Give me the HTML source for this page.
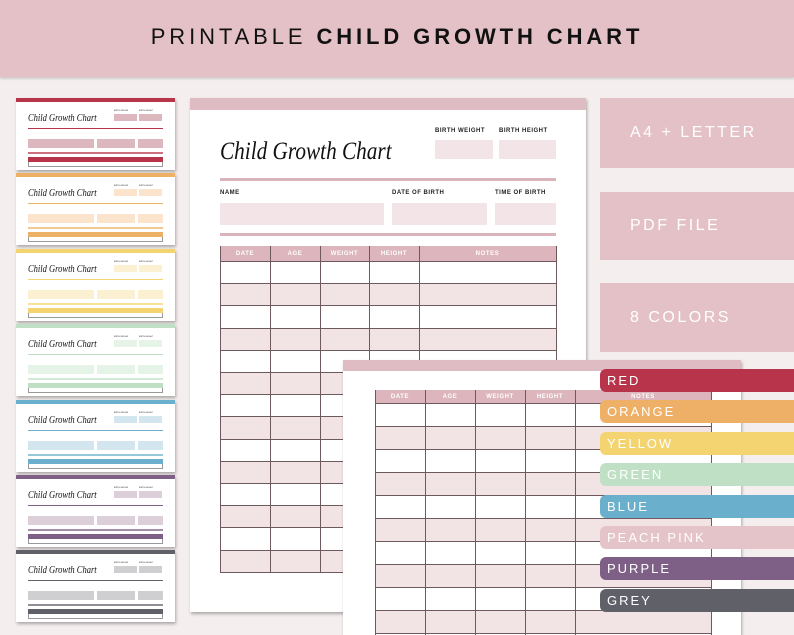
<!DOCTYPE html>
<html><head><meta charset="utf-8">
<style>
*{margin:0;padding:0;box-sizing:border-box}
html{width:794px;height:635px;overflow:hidden}
body{width:794px;height:635px;overflow:hidden;background:#f5eeee;position:relative;font-family:"Liberation Sans",sans-serif}
.abs{position:absolute}
.hdr{left:0;top:0;width:794px;height:77px;background:#e3c1c7;box-shadow:0 2px 2px rgba(0,0,0,.15)}
.hdr h1{position:absolute;left:0;width:794px;top:24px;text-align:center;font-size:22px;font-weight:normal;letter-spacing:3.9px;color:#111}
.hdr b{font-weight:bold}
.sheet{background:#fff;box-shadow:1px 2px 3px rgba(0,0,0,.3)}
.script{font-family:"Liberation Serif",serif;font-style:italic;color:#111;white-space:nowrap}
.lbl{font-size:6px;font-weight:bold;letter-spacing:.5px;color:#222}
.box{background:#f3e5e7}
.side{background:#e3c1c7;color:#fff;font-size:16px;letter-spacing:2.5px;padding-left:30px;display:flex;align-items:center}
.tab{left:600px;width:194px;height:23px;border-radius:6px 0 0 6px;color:#fff;font-size:13px;letter-spacing:2px;padding-left:7px;line-height:23px}
</style></head><body>
<div class="abs hdr"><h1>PRINTABLE <b>CHILD GROWTH CHART</b></h1></div>

<div id="thumbs"></div>

<div class="abs sheet" style="left:190px;top:98px;width:396px;height:514px">
  <div class="abs" style="left:0;top:0;width:396px;height:12px;background:#dfbcc4"></div>
  <div class="abs script" style="left:30px;top:40px;font-size:25px;transform:scaleX(.85);transform-origin:left">Child Growth Chart</div>
  <div class="abs lbl" style="left:245px;top:30px">BIRTH WEIGHT</div>
  <div class="abs lbl" style="left:309px;top:30px">BIRTH HEIGHT</div>
  <div class="abs box" style="left:245px;top:42px;width:58px;height:19px"></div>
  <div class="abs box" style="left:309px;top:42px;width:57px;height:19px"></div>
  <div class="abs" style="left:30px;top:80px;width:336px;height:3px;background:#dab3bb"></div>
  <div class="abs lbl" style="left:30px;top:92px">NAME</div>
  <div class="abs lbl" style="left:202px;top:92px">DATE OF BIRTH</div>
  <div class="abs lbl" style="left:305px;top:92px">TIME OF BIRTH</div>
  <div class="abs box" style="left:30px;top:105px;width:164px;height:22px"></div>
  <div class="abs box" style="left:202px;top:105px;width:95px;height:22px"></div>
  <div class="abs box" style="left:305px;top:105px;width:61px;height:22px"></div>
  <div class="abs" style="left:30px;top:135px;width:336px;height:3px;background:#dab3bb"></div>
  <div id="t1"></div>
</div>

<div class="abs sheet" style="left:343px;top:360px;width:398px;height:275px;overflow:hidden">
  <div class="abs" style="left:0;top:0;width:398px;height:11px;background:#dfbcc4"></div>
  <div id="t2"></div>
</div>

<div class="abs side" style="left:600px;top:98px;width:194px;height:70px">A4 + LETTER</div>
<div class="abs side" style="left:600px;top:192px;width:194px;height:68px">PDF FILE</div>
<div class="abs side" style="left:600px;top:283px;width:194px;height:69px">8 COLORS</div>
<div id="tabs"></div>

<script>
const cols=['DATE','AGE','WEIGHT','HEIGHT','NOTES'];
function table(host,x,y,widths,hh,rh,n,fs){
  const c=document.getElementById(host);
  let h='';let cx=x;const W=widths.reduce((a,b)=>a+b,0);
  h+=`<div class="abs" style="left:${x}px;top:${y}px;width:${W}px;height:${hh}px;background:#dcb5bd"></div>`;
  widths.forEach((w,i)=>{h+=`<div class="abs" style="left:${cx}px;top:${y}px;width:${w}px;height:${hh}px;line-height:${hh}px;text-align:center;color:#fff;font-size:${fs}px;font-weight:bold;letter-spacing:.6px">${cols[i]}</div>`;cx+=w;});
  for(let r=0;r<n;r++){const ty=y+hh+r*rh;h+=`<div class="abs" style="left:${x}px;top:${ty}px;width:${W}px;height:${rh}px;background:${r%2?'#f2e3e5':'#fff'};border-bottom:1px solid #6e5a5e"></div>`;}
  cx=x;for(let i=0;i<=widths.length;i++){h+=`<div class="abs" style="left:${cx}px;top:${y}px;width:1px;height:${hh+n*rh}px;background:#6e5a5e"></div>`;cx+=widths[i]||0;}
  h+=`<div class="abs" style="left:${x}px;top:${y+hh-1}px;width:${W}px;height:1px;background:#6e5a5e"></div>`;
  c.innerHTML=h;
}
table('t1',30,148,[50,50,49,50,137],16,22.2,14,6);
table('t2',32,30,[50,50,50,50,136],14,23,11,6);

const tc=[['#b8344a','#dcb8be'],['#eeb066','#fbe3cc'],['#f4d470','#fbf0d2'],['#bfe0c4','#e6f3e7'],['#6aafcb','#d3e6ef'],['#7e5f86','#dccfd9'],['#5f6068','#cfcfd2']];
let th='';
tc.forEach((c,i)=>{const y=98+i*75.4;
th+=`<div class="abs sheet" style="left:16px;top:${y}px;width:159px;height:72px;overflow:hidden">
<div class="abs" style="left:0;top:0;width:159px;height:4px;background:${c[0]}"></div>
<div class="abs script" style="left:12px;top:15px;font-size:10px;transform:scaleX(.85);transform-origin:left">Child Growth Chart</div>
<div class="abs" style="left:98px;top:12px;font-size:2px;color:#333">BIRTH WEIGHT</div>
<div class="abs" style="left:123px;top:12px;font-size:2px;color:#333">BIRTH HEIGHT</div>
<div class="abs" style="left:98px;top:16px;width:23px;height:7px;background:${c[1]}"></div>
<div class="abs" style="left:123px;top:16px;width:23px;height:7px;background:${c[1]}"></div>
<div class="abs" style="left:12px;top:30px;width:135px;height:1px;background:${c[0]}"></div>
<div class="abs" style="left:12px;top:41px;width:66px;height:9px;background:${c[1]}"></div>
<div class="abs" style="left:81px;top:41px;width:38px;height:9px;background:${c[1]}"></div>
<div class="abs" style="left:122px;top:41px;width:25px;height:9px;background:${c[1]}"></div>
<div class="abs" style="left:12px;top:54px;width:135px;height:2px;background:${c[0]};opacity:.7"></div>
<div class="abs" style="left:12px;top:59px;width:135px;height:5px;background:${c[0]}"></div>
<div class="abs" style="left:12px;top:64px;width:135px;height:5px;border:1px solid #999;border-top:0"></div>
</div>`;});
const t=document.getElementById('thumbs');t.innerHTML=th;

const names=['RED','ORANGE','YELLOW','GREEN','BLUE','PEACH PINK','PURPLE','GREY'];
const tabc=['#b8344a','#eeb066','#f4d470','#bfe0c4','#6aafcb','#e4c3c9','#7e5f86','#5f6068'];
const tabs=document.getElementById('tabs');
names.forEach((n,i)=>{const d=document.createElement('div');
d.className='abs tab';d.style.top=(369+i*31.4)+'px';d.style.background=tabc[i];d.textContent=n;


tabs.appendChild(d);});
</script>
</body></html>
